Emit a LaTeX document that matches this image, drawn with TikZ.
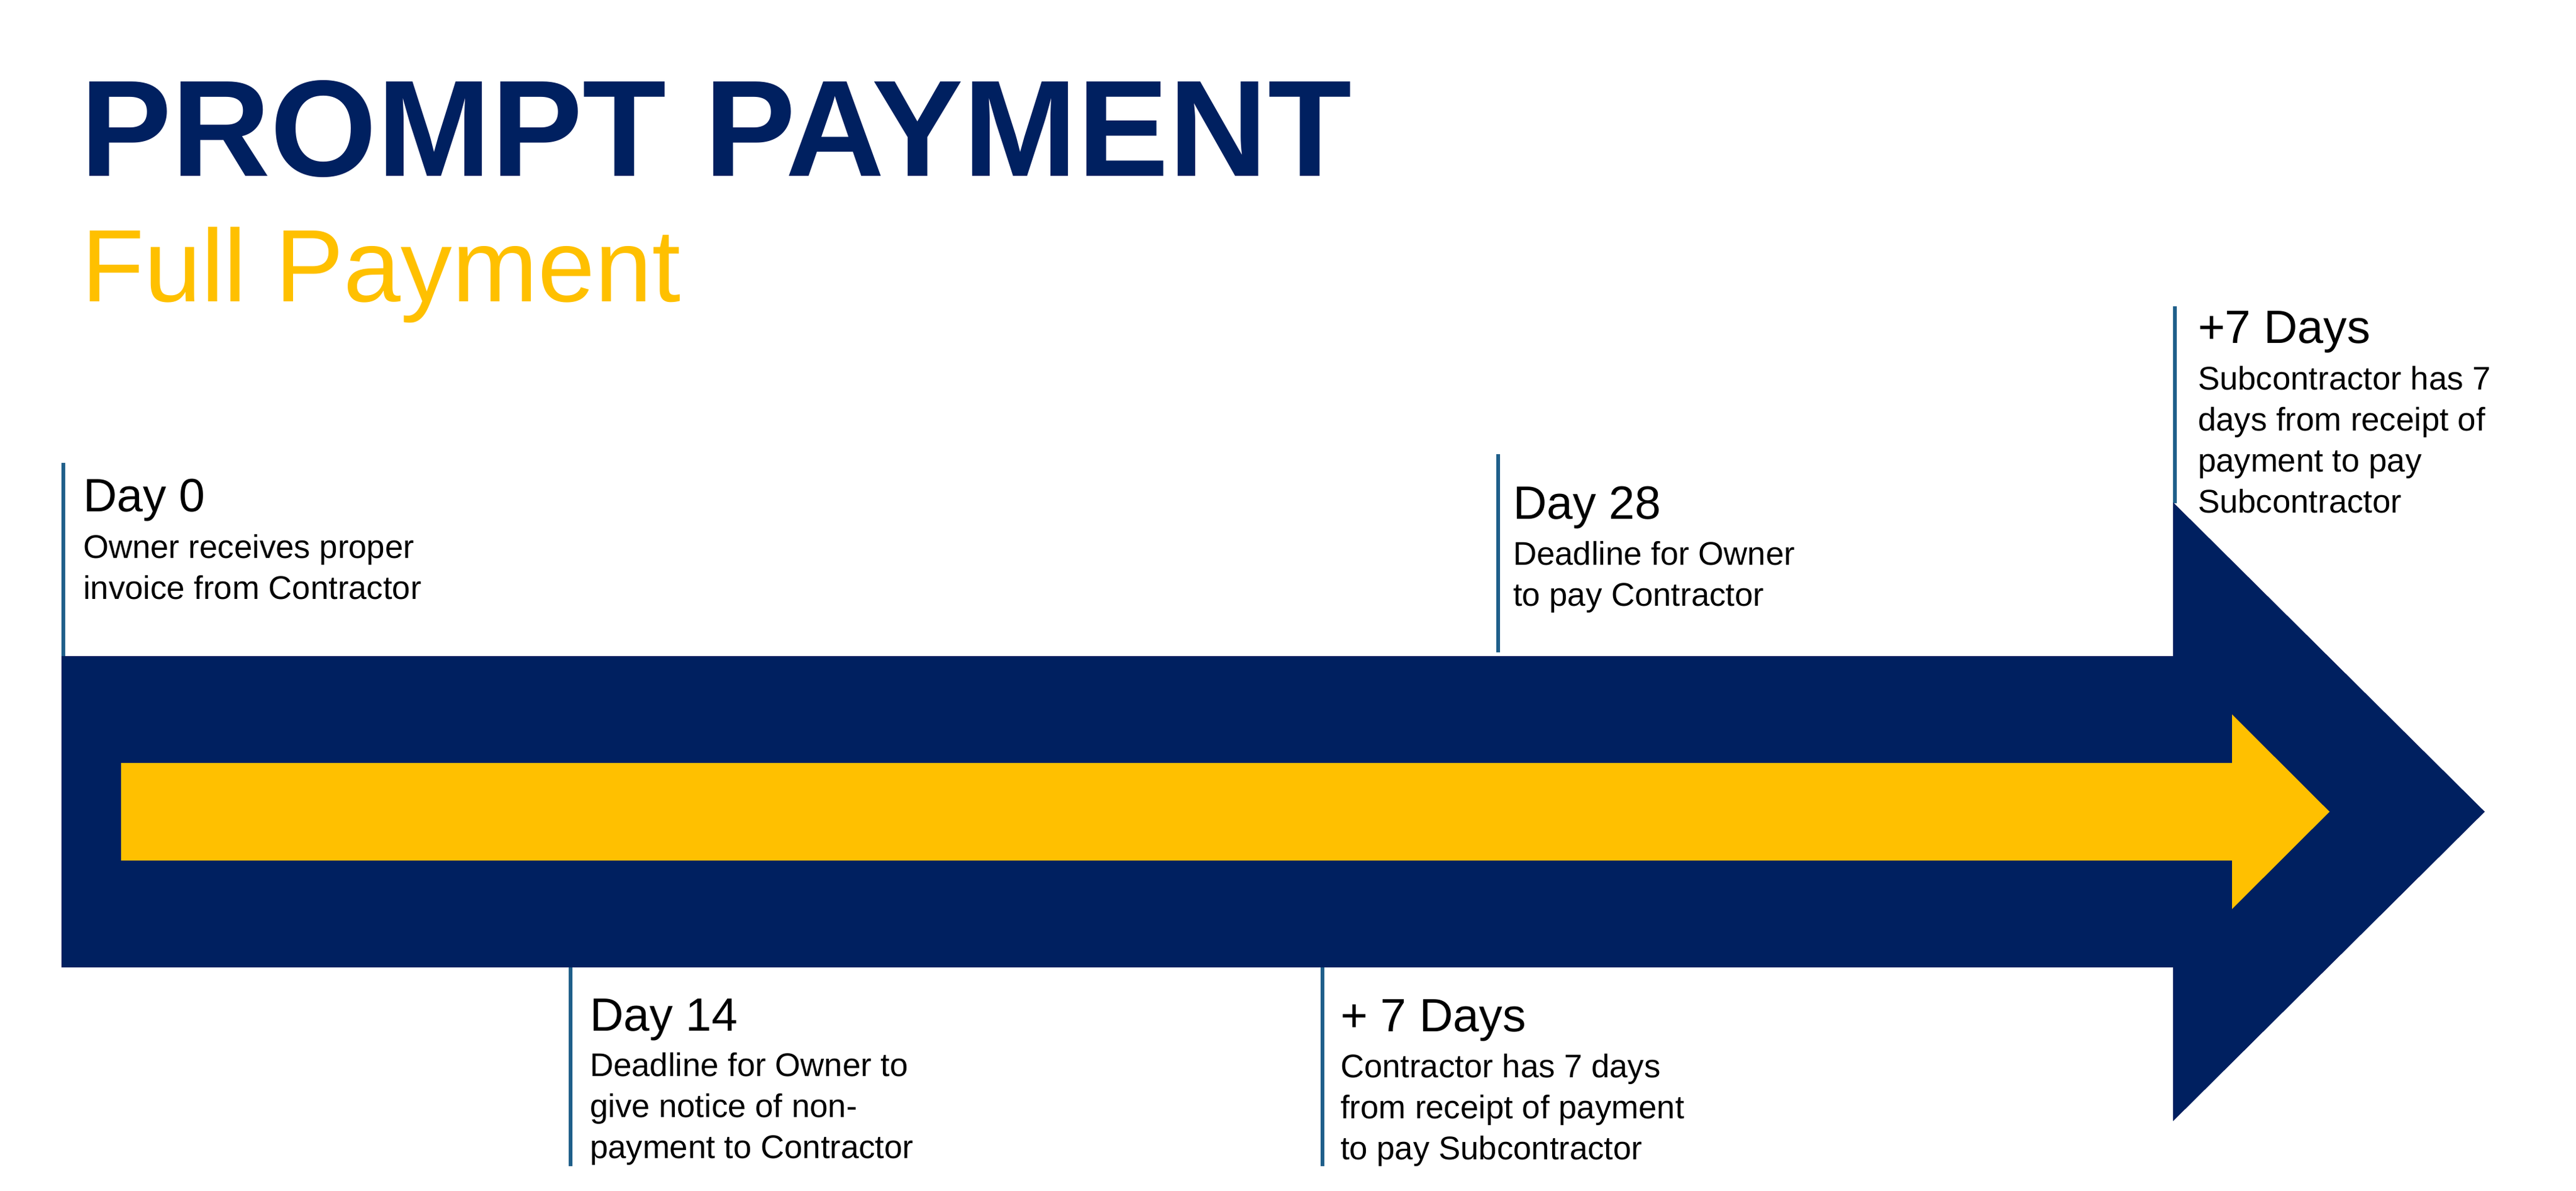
\documentclass[tikz,border=0pt]{standalone}
\usepackage{fontspec}
\setmainfont{Liberation Sans}
\usepackage{xcolor}
\usetikzlibrary{positioning}
\definecolor{navy}{HTML}{002060}
\definecolor{gold}{HTML}{FFC000}
\definecolor{markblue}{RGB}{31,95,138}
\newcommand{\desclines}[1]{\begin{tabular}[t]{@{}l@{}}#1\end{tabular}}

\begin{document}
\begin{tikzpicture}[inner sep=0pt, outer sep=0pt]
            \tikzset{day/.style={anchor=base west, font=\fontsize{21.4}{25}\selectfont},
                     note/.style={font=\fontsize{15}{18.78}\selectfont},
                     markline/.style={draw=markblue, line width=1.8pt}}
            \useasboundingbox (0,0) rectangle (41.49,-19.16);
            \node[anchor=base west, text=navy, font=\fontsize{62.8}{70}\selectfont\bfseries] (title) at (1.29,-2.83) {PROMPT PAYMENT};
            \node[anchor=base west, text=gold, font=\fontsize{47.1}{55}\selectfont] (sub) at (1.31,-4.85) {Full Payment};
            \coordinate (t0) at (1.02,-7.45);   \coordinate (b0) at (1.02,-10.56);
            \coordinate (t14) at (9.19,-15.57); \coordinate (b14) at (9.19,-18.77);
            \coordinate (t28) at (24.13,-7.31); \coordinate (b28) at (24.13,-10.50);
            \coordinate (ta) at (21.30,-15.57); \coordinate (ba) at (21.30,-18.77);
            \coordinate (tb) at (35.03,-4.93);  \coordinate (bb) at (35.03,-8.10);
            \draw[markline] (t0) -- (b0);
            \draw[markline] (t14) -- (b14);
            \draw[markline] (t28) -- (b28);
            \draw[markline] (ta) -- (ba);
            \draw[markline] (tb) -- (bb);
            \fill[navy] (0.99,-10.56) -- (35.00,-10.56) -- (35.00,-8.085) -- (40.02,-13.065)
                -- (35.00,-18.045) -- (35.00,-15.57) -- (0.99,-15.57) -- cycle;
            \fill[gold] (1.95,-12.28) -- (35.95,-12.28) -- (35.95,-11.50) -- (37.52,-13.065)
                -- (35.95,-14.63) -- (35.95,-13.85) -- (1.95,-13.85) -- cycle;
            \node[day] (d0) at (1.34,-8.23) {Day 0};
            \node[note, below=0.75cm of d0.base west, anchor=base west] (d0n) {\desclines{Owner receives proper\\invoice from Contractor}};
            \node[day] (d14) at (9.50,-16.59) {Day 14};
            \node[note, below=0.73cm of d14.base west, anchor=base west] (d14n) {\desclines{Deadline for Owner to\\give notice of non-\\payment to Contractor}};
            \node[day] (d28) at (24.37,-8.35) {Day 28};
            \node[note, below=0.74cm of d28.base west, anchor=base west] (d28n) {\desclines{Deadline for Owner\\to pay Contractor}};
            \node[day] (pa) at (21.59,-16.60) {+ 7 Days};
            \node[note, below=0.74cm of pa.base west, anchor=base west] (pan) {\desclines{Contractor has 7 days\\from receipt of payment\\to pay Subcontractor}};
            \node[day] (pb) at (35.40,-5.52) {+7 Days};
            \node[note, below=0.75cm of pb.base west, anchor=base west] (pbn) {\desclines{Subcontractor has 7\\days from receipt of\\payment to pay\\Subcontractor}};
\end{tikzpicture}
\end{document}
